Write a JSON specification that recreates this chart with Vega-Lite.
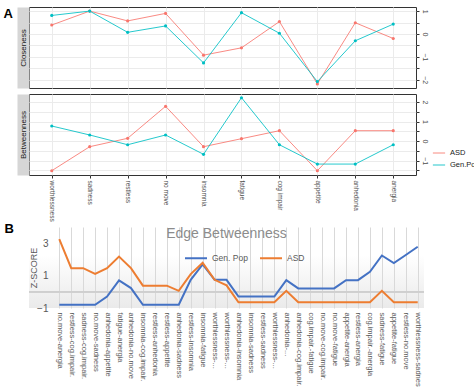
{
  "$schema": "https://vega.github.io/schema/vega-lite/v6.json",
  "padding": {"left": 2, "top": 6, "right": 0, "bottom": 0},
  "background": "white",
  "config": {"font": "Liberation Sans", "view": {"stroke": null}, "axisY": {"labelOverlap": false}},
  "datasets": {
    "nodes": [
      {"m": "Closeness", "node": "worthlessness", "g": "ASD", "v": 0.39},
      {"m": "Closeness", "node": "sadness", "g": "ASD", "v": 1.0},
      {"m": "Closeness", "node": "restless", "g": "ASD", "v": 0.57},
      {"m": "Closeness", "node": "no move", "g": "ASD", "v": 0.9},
      {"m": "Closeness", "node": "insomnia", "g": "ASD", "v": -0.93},
      {"m": "Closeness", "node": "fatigue", "g": "ASD", "v": -0.61},
      {"m": "Closeness", "node": "cog impair", "g": "ASD", "v": 0.54},
      {"m": "Closeness", "node": "appetite", "g": "ASD", "v": -2.19},
      {"m": "Closeness", "node": "anhedonia", "g": "ASD", "v": 0.49},
      {"m": "Closeness", "node": "anergia", "g": "ASD", "v": -0.2},
      {"m": "Closeness", "node": "worthlessness", "g": "Gen.Pop.", "v": 0.81},
      {"m": "Closeness", "node": "sadness", "g": "Gen.Pop.", "v": 1.0},
      {"m": "Closeness", "node": "restless", "g": "Gen.Pop.", "v": 0.07},
      {"m": "Closeness", "node": "no move", "g": "Gen.Pop.", "v": 0.35},
      {"m": "Closeness", "node": "insomnia", "g": "Gen.Pop.", "v": -1.27},
      {"m": "Closeness", "node": "fatigue", "g": "Gen.Pop.", "v": 0.93},
      {"m": "Closeness", "node": "cog impair", "g": "Gen.Pop.", "v": 0.03},
      {"m": "Closeness", "node": "appetite", "g": "Gen.Pop.", "v": -2.09},
      {"m": "Closeness", "node": "anhedonia", "g": "Gen.Pop.", "v": -0.3},
      {"m": "Closeness", "node": "anergia", "g": "Gen.Pop.", "v": 0.43},
      {"m": "Betweenness", "node": "worthlessness", "g": "ASD", "v": -1.52},
      {"m": "Betweenness", "node": "sadness", "g": "ASD", "v": -0.29},
      {"m": "Betweenness", "node": "restless", "g": "ASD", "v": 0.14},
      {"m": "Betweenness", "node": "no move", "g": "ASD", "v": 1.78},
      {"m": "Betweenness", "node": "insomnia", "g": "ASD", "v": -0.29},
      {"m": "Betweenness", "node": "fatigue", "g": "ASD", "v": 0.12},
      {"m": "Betweenness", "node": "cog impair", "g": "ASD", "v": 0.53},
      {"m": "Betweenness", "node": "appetite", "g": "ASD", "v": -1.52},
      {"m": "Betweenness", "node": "anhedonia", "g": "ASD", "v": 0.53},
      {"m": "Betweenness", "node": "anergia", "g": "ASD", "v": 0.53},
      {"m": "Betweenness", "node": "worthlessness", "g": "Gen.Pop.", "v": 0.77},
      {"m": "Betweenness", "node": "sadness", "g": "Gen.Pop.", "v": 0.31},
      {"m": "Betweenness", "node": "restless", "g": "Gen.Pop.", "v": -0.19},
      {"m": "Betweenness", "node": "no move", "g": "Gen.Pop.", "v": 0.31},
      {"m": "Betweenness", "node": "insomnia", "g": "Gen.Pop.", "v": -0.68},
      {"m": "Betweenness", "node": "fatigue", "g": "Gen.Pop.", "v": 2.22},
      {"m": "Betweenness", "node": "cog impair", "g": "Gen.Pop.", "v": -0.19},
      {"m": "Betweenness", "node": "appetite", "g": "Gen.Pop.", "v": -1.18},
      {"m": "Betweenness", "node": "anhedonia", "g": "Gen.Pop.", "v": -1.18},
      {"m": "Betweenness", "node": "anergia", "g": "Gen.Pop.", "v": -0.19}
    ],
    "edges": [
      {"e": "no.move-anergia", "s": "Gen. Pop", "z": -0.8},
      {"e": "restless-cog.impair.", "s": "Gen. Pop", "z": -0.8},
      {"e": "sadness-cog.impair.", "s": "Gen. Pop", "z": -0.8},
      {"e": "no.move-sadness", "s": "Gen. Pop", "z": -0.8},
      {"e": "anhedonia-appetite", "s": "Gen. Pop", "z": -0.29},
      {"e": "fatigue-anergia", "s": "Gen. Pop", "z": 0.7},
      {"e": "anhedonia-no.move", "s": "Gen. Pop", "z": 0.23},
      {"e": "insomnia-cog.impair.", "s": "Gen. Pop", "z": -0.8},
      {"e": "restless-anhedonia", "s": "Gen. Pop", "z": -0.8},
      {"e": "restless-appetite", "s": "Gen. Pop", "z": -0.8},
      {"e": "anhedonia-sadness", "s": "Gen. Pop", "z": -0.8},
      {"e": "restless-insomnia", "s": "Gen. Pop", "z": 0.74},
      {"e": "insomnia-fatigue", "s": "Gen. Pop", "z": 1.69},
      {"e": "worthlessness-...", "s": "Gen. Pop", "z": 0.74},
      {"e": "worthlessness-... ", "s": "Gen. Pop", "z": 0.74},
      {"e": "anhedonia-insomnia", "s": "Gen. Pop", "z": -0.29},
      {"e": "insomnia-sadness", "s": "Gen. Pop", "z": -0.29},
      {"e": "restless-sadness", "s": "Gen. Pop", "z": -0.29},
      {"e": "worthlessness-...  ", "s": "Gen. Pop", "z": -0.29},
      {"e": "anhedonia-...", "s": "Gen. Pop", "z": 0.72},
      {"e": "anhedonia-cog.impair.", "s": "Gen. Pop", "z": 0.21},
      {"e": "cog.impair.-fatigue", "s": "Gen. Pop", "z": 0.21},
      {"e": "no.move-cog.impair.", "s": "Gen. Pop", "z": 0.21},
      {"e": "no.move-fatigue", "s": "Gen. Pop", "z": 0.21},
      {"e": "appetite-anergia", "s": "Gen. Pop", "z": 0.72},
      {"e": "restless-anergia", "s": "Gen. Pop", "z": 0.72},
      {"e": "cog.impair.-anergia", "s": "Gen. Pop", "z": 1.23},
      {"e": "sadness-fatigue", "s": "Gen. Pop", "z": 2.24},
      {"e": "appetite-fatigue", "s": "Gen. Pop", "z": 1.77},
      {"e": "restless-no.move", "s": "Gen. Pop", "z": 2.27},
      {"e": "worthlessness-sadness", "s": "Gen. Pop", "z": 2.78},
      {"e": "no.move-anergia", "s": "ASD", "z": 3.25},
      {"e": "restless-cog.impair.", "s": "ASD", "z": 1.46},
      {"e": "sadness-cog.impair.", "s": "ASD", "z": 1.46},
      {"e": "no.move-sadness", "s": "ASD", "z": 1.11},
      {"e": "anhedonia-appetite", "s": "ASD", "z": 1.46},
      {"e": "fatigue-anergia", "s": "ASD", "z": 2.17},
      {"e": "anhedonia-no.move", "s": "ASD", "z": 1.46},
      {"e": "insomnia-cog.impair.", "s": "ASD", "z": 0.38},
      {"e": "restless-anhedonia", "s": "ASD", "z": 0.38},
      {"e": "restless-appetite", "s": "ASD", "z": 0.38},
      {"e": "anhedonia-sadness", "s": "ASD", "z": 0.06},
      {"e": "restless-insomnia", "s": "ASD", "z": 1.09},
      {"e": "insomnia-fatigue", "s": "ASD", "z": 1.79},
      {"e": "worthlessness-...", "s": "ASD", "z": 0.74},
      {"e": "worthlessness-... ", "s": "ASD", "z": 0.4},
      {"e": "anhedonia-insomnia", "s": "ASD", "z": -0.65},
      {"e": "insomnia-sadness", "s": "ASD", "z": -0.65},
      {"e": "restless-sadness", "s": "ASD", "z": -0.65},
      {"e": "worthlessness-...  ", "s": "ASD", "z": -0.65},
      {"e": "anhedonia-...", "s": "ASD", "z": 0.06},
      {"e": "anhedonia-cog.impair.", "s": "ASD", "z": -0.65},
      {"e": "cog.impair.-fatigue", "s": "ASD", "z": -0.65},
      {"e": "no.move-cog.impair.", "s": "ASD", "z": -0.65},
      {"e": "no.move-fatigue", "s": "ASD", "z": -0.65},
      {"e": "appetite-anergia", "s": "ASD", "z": -0.65},
      {"e": "restless-anergia", "s": "ASD", "z": -0.65},
      {"e": "cog.impair.-anergia", "s": "ASD", "z": -0.65},
      {"e": "sadness-fatigue", "s": "ASD", "z": 0.06},
      {"e": "appetite-fatigue", "s": "ASD", "z": -0.65},
      {"e": "restless-no.move", "s": "ASD", "z": -0.65},
      {"e": "worthlessness-sadness", "s": "ASD", "z": -0.65}
    ]
  },
  "resolve": {"scale": {"color": "independent"}},
  "spacing": 0,
  "vconcat": [
    {
      "data": {"name": "nodes"},
      "spacing": 4,
      "vconcat": [
        {
          "width": 387, "height": 81,
          "view": {"stroke": "#333333", "strokeWidth": 1},
          "transform": [{"filter": "datum.m == 'Closeness'"}],
          "encoding": {
            "x": {"field": "node", "type": "nominal", "sort": ["worthlessness","sadness","restless","no move","insomnia","fatigue","cog impair","appetite","anhedonia","anergia"], "scale": {"type": "point", "padding": 0.6},
              "axis": {"title": "A", "titleX": -26, "titleY": -81, "titleAlign": "left", "titleBaseline": "top", "titleAngle": 0, "titleFontSize": 13, "titleFontWeight": "bold", "titleColor": "#000000",
                "labels": false, "ticks": false, "domain": false, "grid": true, "gridColor": "#ebebeb"}},
            "color": {"field": "g", "type": "nominal", "scale": {"domain": ["ASD", "Gen.Pop."], "range": ["#F8766D", "#00BFC4"]},
              "legend": {"title": null, "orient": "none", "legendX": 403, "legendY": 139, "symbolType": "stroke", "symbolSize": 150, "symbolStrokeWidth": 1, "labelFontSize": 7.5, "labelColor": "#1a1a1a", "rowPadding": 1}}
          },
          "layer": [
            {"mark": {"type": "line", "strokeWidth": 1, "opacity": 0.85},
              "encoding": {"y": {"field": "v", "type": "quantitative", "scale": {"domain": [-2.37, 1.18], "nice": false, "zero": false},
                "axis": {"orient": "right", "title": null, "values": [-2, -1.5, -1, -0.5, 0, 0.5, 1], "labelExpr": "datum.value % 1 == 0 ? format(datum.value, 'd') : ''",
                  "grid": true, "gridColor": "#ebebeb", "domain": false, "labelAngle": 90, "labelAlign": "center", "labelBaseline": "bottom", "tickSize": 3, "tickColor": "#333333", "labelFontSize": 7, "labelColor": "#4d4d4d", "labelPadding": 2}}}},
            {"mark": {"type": "point", "filled": true, "size": 10, "opacity": 1},
              "encoding": {"y": {"field": "v", "type": "quantitative", "scale": {"domain": [-2.37, 1.18], "nice": false, "zero": false},
                "axis": {"orient": "left", "title": "Closeness", "titleFontSize": 8, "titleColor": "#1a1a1a", "titleFontWeight": "normal", "titleAngle": 270, "titleX": 0, "titleY": 40.5, "titleBaseline": "middle", "titleAlign": "center",
                  "labels": false, "ticks": false, "grid": false, "domain": true, "domainColor": "#d6d6d6", "domainWidth": 12, "offset": 6}}}}
          ],
          "resolve": {"axis": {"y": "independent"}}
        },
        {
          "width": 387, "height": 81,
          "view": {"stroke": "#333333", "strokeWidth": 1},
          "transform": [{"filter": "datum.m == 'Betweenness'"}],
          "encoding": {
            "x": {"field": "node", "type": "nominal", "sort": ["worthlessness","sadness","restless","no move","insomnia","fatigue","cog impair","appetite","anhedonia","anergia"], "scale": {"type": "point", "padding": 0.6},
              "axis": {"title": null, "labelAngle": 90, "labelAlign": "left", "labelBaseline": "middle", "labelFontSize": 6.5, "labelColor": "#4d4d4d", "labelPadding": 2, "tickSize": 3, "tickColor": "#333333", "domain": false, "grid": true, "gridColor": "#ebebeb"}},
            "color": {"field": "g", "type": "nominal", "scale": {"domain": ["ASD", "Gen.Pop."], "range": ["#F8766D", "#00BFC4"]},
              "legend": {"title": null, "orient": "none", "legendX": 403, "legendY": 139, "symbolType": "stroke", "symbolSize": 150, "symbolStrokeWidth": 1, "labelFontSize": 7.5, "labelColor": "#1a1a1a", "rowPadding": 1}}
          },
          "layer": [
            {"mark": {"type": "line", "strokeWidth": 1, "opacity": 0.85},
              "encoding": {"y": {"field": "v", "type": "quantitative", "scale": {"domain": [-1.74, 2.41], "nice": false, "zero": false},
                "axis": {"orient": "right", "title": null, "values": [-1.5, -1, -0.5, 0, 0.5, 1, 1.5, 2], "labelExpr": "datum.value % 1 == 0 ? format(datum.value, 'd') : ''",
                  "grid": true, "gridColor": "#ebebeb", "domain": false, "labelAngle": 90, "labelAlign": "center", "labelBaseline": "bottom", "tickSize": 3, "tickColor": "#333333", "labelFontSize": 7, "labelColor": "#4d4d4d", "labelPadding": 2}}}},
            {"mark": {"type": "point", "filled": true, "size": 10, "opacity": 1},
              "encoding": {"y": {"field": "v", "type": "quantitative", "scale": {"domain": [-1.74, 2.41], "nice": false, "zero": false},
                "axis": {"orient": "left", "title": "Betweenness", "titleFontSize": 8, "titleColor": "#1a1a1a", "titleFontWeight": "normal", "titleAngle": 270, "titleX": 0, "titleY": 40.5, "titleBaseline": "middle", "titleAlign": "center",
                  "labels": false, "ticks": false, "grid": false, "domain": true, "domainColor": "#d6d6d6", "domainWidth": 12, "offset": 6}}}}
          ],
          "resolve": {"axis": {"y": "independent"}}
        }
      ]
    },
    {
      "data": {"name": "edges"},
      "width": 395, "height": 81,
      "title": {"text": "Edge Betweenness", "fontSize": 14, "fontWeight": "normal", "color": "#8c8c8c", "offset": -19, "anchor": "middle"},
      "view": {"fill": {"gradient": "linear", "x1": 0, "y1": 0, "x2": 0, "y2": 1, "stops": [{"offset": 0, "color": "#ffffff"}, {"offset": 0.35, "color": "#ffffff"}, {"offset": 1, "color": "#eaeaea"}]}},
      "layer": [
        {"mark": {"type": "rule", "color": "#cfcfcf", "strokeWidth": 1}, "encoding": {"y": {"datum": 0, "type": "quantitative"}}},
        {"mark": {"type": "line", "strokeWidth": 2},
          "encoding": {
            "x": {"field": "e", "type": "nominal", "sort": null, "scale": {"type": "point", "range": [24.3, 394.7]},
              "axis": {"title": "B", "titleX": -25, "titleY": -86, "titleAlign": "left", "titleBaseline": "top", "titleAngle": 0, "titleFontSize": 13, "titleFontWeight": "bold", "titleColor": "#000000",
                "labelAngle": 90, "labelAlign": "left", "labelBaseline": "middle", "labelFontSize": 7.5, "labelColor": "#595959", "labelPadding": 4, "ticks": false, "domain": false, "grid": true, "gridColor": "#d9d9d9", "labelLimit": 0}},
            "y": {"field": "z", "type": "quantitative", "scale": {"domain": [-1, 4], "nice": false, "zero": false},
              "axis": {"offset": -24, "title": "Z-SCORE", "titleX": -20, "titleY": 40.5, "titleAngle": 270, "titleAlign": "center", "titleBaseline": "middle", "values": [-1, 0, 1, 2, 3, 4], "labelOverlap": false, "labelFlush": false, "grid": false, "ticks": false, "domain": false, "labelFontSize": 10, "labelColor": "#595959", "labelPadding": 5, "titleFontSize": 9, "titleFontWeight": "normal", "titleColor": "#595959"}},
            "color": {"field": "s", "type": "nominal", "scale": {"domain": ["Gen. Pop", "ASD"], "range": ["#4472C4", "#ED7D31"]},
              "legend": {"title": null, "orient": "none", "direction": "horizontal", "legendX": 155, "legendY": 19, "symbolType": "stroke", "symbolSize": 484, "symbolStrokeWidth": 2, "labelFontSize": 8.5, "labelColor": "#595959", "columnPadding": 8}}
          }}
      ]
    }
  ]
}
